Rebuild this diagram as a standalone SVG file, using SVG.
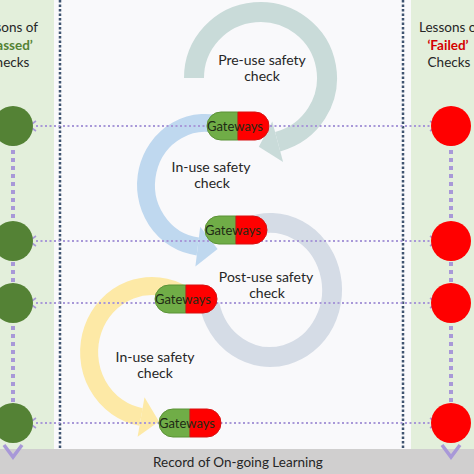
<svg xmlns="http://www.w3.org/2000/svg" width="474" height="474" viewBox="0 0 474 474">
<style>
.lbl{font-family:Lato,"Open Sans","Liberation Sans",sans-serif;font-size:14px;fill:#262626;text-anchor:middle}
.gw{font-family:Lato,"Open Sans","Liberation Sans",sans-serif;font-size:13px;fill:#1e2a14;text-anchor:middle}
.hd{font-family:Lato,"Open Sans","Liberation Sans",sans-serif;font-size:13.5px;fill:#262626;text-anchor:middle}
.hline{stroke:#a898d8;stroke-width:2;stroke-dasharray:2 2.5;fill:none}
.vline{stroke:#a898d8;stroke-width:4;stroke-dasharray:4 4;fill:none}
.sep{stroke:#3f5470;stroke-width:2.5;stroke-dasharray:2.5 2;fill:none}
.gl{fill:#70ad47;stroke:#5b9236;stroke-width:1}
.rd{fill:#ff0000;stroke:#d81010;stroke-width:1}
</style>
<defs>
<marker id="chev" viewBox="0 0 10 12" refX="1" refY="6" markerWidth="10" markerHeight="12" markerUnits="userSpaceOnUse" orient="auto-start-reverse">
<path d="M1,1 L8,6 L1,11" fill="none" stroke="#a898d8" stroke-width="1.6"/>
</marker>
<g id="pill">
<path class="gl" d="M-17,-14 H0 V14 H-17 A14,14 0 0 1 -17,-14 Z"/>
<path class="rd" d="M0,-14 H17 A14,14 0 0 1 17,14 H0 Z"/>
</g>
</defs>
<!-- backgrounds -->
<rect x="0" y="0" width="474" height="474" fill="#f9f9fb"/>
<rect x="0" y="0" width="54" height="449" fill="#e3efdb"/>
<rect x="411" y="0" width="63" height="449" fill="#e3efdb"/>
<rect x="0" y="449" width="474" height="25" fill="#d0cfcf"/>
<text class="hd" x="238" y="467">Record of On-going Learning</text>
<line class="sep" x1="60" y1="0" x2="60" y2="449"/>
<line class="sep" x1="403" y1="0" x2="403" y2="449"/>
<!-- headers -->
<g id="hdr-left">
<text class="hd" x="7" y="32">Lessons of</text>
<text class="hd" x="9" y="50" style="font-weight:bold;fill:#548235">‘Passed’</text>
<text class="hd" x="8" y="67">Checks</text>
</g>
<g id="hdr-right">
<text class="hd" x="450" y="32">Lessons of</text>
<text class="hd" x="448" y="50" style="font-weight:bold;fill:#d40000">‘Failed’</text>
<text class="hd" x="449" y="67">Checks</text>
</g>
<!-- cycle arrows -->
<g id="arrow-preuse" fill="#c9dbd9">
<path d="M194,78 A66.5,66 0 1 1 277.7,141.75" fill="none" stroke="#c9dbd9" stroke-width="20"/>
<polygon points="272.3,121.5 283.1,162 258.8,146.8"/>
</g>
<g id="arrow-inuse1" fill="#bfd8ef">
<path d="M225.2,126.7 A59,62 0 1 0 197.8,246.5" fill="none" stroke="#bfd8ef" stroke-width="18"/>
<polygon points="200.2,226.7 195.4,266.4 217.6,249.1"/>
</g>
<g id="arrow-postuse">
<path d="M248.8,227 A62,67 0 1 1 209.4,303.9" fill="none" stroke="#d5dce6" stroke-width="20"/>
</g>
<g id="arrow-inuse2" fill="#fde9a6">
<path d="M183.5,294.8 A63,66 0 1 0 141.06,417" fill="none" stroke="#fde9a6" stroke-width="18"/>
<polygon points="144.5,397.3 137.6,436.7 159,421.5"/>
</g>
<!-- labels -->
<g id="label-preuse"><text class="lbl" x="262" y="65">Pre-use safety</text><text class="lbl" x="262" y="81">check</text></g>
<g id="label-inuse1"><text class="lbl" x="211" y="172">In-use safety</text><text class="lbl" x="212" y="188">check</text></g>
<g id="label-postuse"><text class="lbl" x="266" y="282">Post-use safety</text><text class="lbl" x="267" y="298">check</text></g>
<g id="label-inuse2"><text class="lbl" x="155" y="362">In-use safety</text><text class="lbl" x="155" y="378">check</text></g>
<!-- connectors -->
<g id="connectors">
<line class="vline" x1="13" y1="126" x2="13" y2="446"/>
<line class="vline" x1="451" y1="126" x2="451" y2="446"/>
<polyline points="4,445 13,457 22,445" fill="none" stroke="#a898d8" stroke-width="3.5"/>
<polyline points="442,445 451,457 460,445" fill="none" stroke="#a898d8" stroke-width="3.5"/>
<line class="hline" x1="36" y1="126" x2="430" y2="126" marker-start="url(#chev)" marker-end="url(#chev)"/>
<line class="hline" x1="36" y1="241" x2="430" y2="241" marker-start="url(#chev)" marker-end="url(#chev)"/>
<line class="hline" x1="36" y1="303" x2="430" y2="303" marker-start="url(#chev)" marker-end="url(#chev)"/>
<line class="hline" x1="36" y1="423" x2="430" y2="423" marker-start="url(#chev)" marker-end="url(#chev)"/>
</g>
<!-- passed / failed nodes -->
<g id="pass1"><circle cx="13" cy="126" r="20" fill="#548235"/></g>
<g id="pass2"><circle cx="13" cy="241" r="20" fill="#548235"/></g>
<g id="pass3"><circle cx="13" cy="303" r="20" fill="#548235"/></g>
<g id="pass4"><circle cx="13" cy="423" r="20" fill="#548235"/></g>
<g id="fail1"><circle cx="451" cy="126" r="20" fill="#ff0000"/></g>
<g id="fail2"><circle cx="451" cy="241" r="20" fill="#ff0000"/></g>
<g id="fail3"><circle cx="451" cy="303" r="20" fill="#ff0000"/></g>
<g id="fail4"><circle cx="451" cy="423" r="20" fill="#ff0000"/></g>
<!-- gateways -->
<g id="gateway1"><use href="#pill" x="238" y="126"/><text class="gw" x="235" y="131">Gateways</text></g>
<g id="gateway2"><use href="#pill" x="236" y="230"/><text class="gw" x="233" y="235">Gateways</text></g>
<g id="gateway3"><use href="#pill" x="186" y="299"/><text class="gw" x="183" y="304">Gateways</text></g>
<g id="gateway4"><use href="#pill" x="190" y="423"/><text class="gw" x="187" y="428">Gateways</text></g>
</svg>
